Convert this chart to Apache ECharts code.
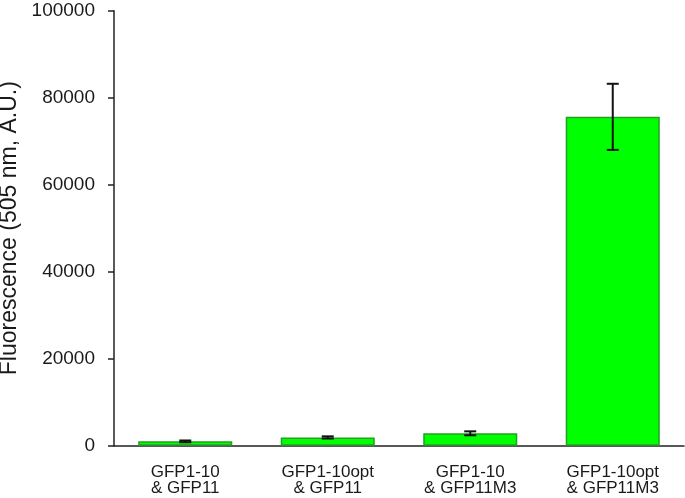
<!DOCTYPE html>
<html>
<head>
<meta charset="utf-8">
<script src="https://cdn.jsdelivr.net/npm/echarts@6/dist/echarts.min.js"></script>
<style>
  html, body { margin: 0; padding: 0; background: #fff; }
  #chart { width: 685px; height: 498px; }
</style>
</head>
<body>
<div id="chart"></div>
<script>
// values
const categories = ['GFP1-10\n& GFP11', 'GFP1-10opt\n& GFP11', 'GFP1-10\n& GFP11M3', 'GFP1-10opt\n& GFP11M3'];
const fluorescence = [1000, 1900, 2850, 75600];
const errors = [200, 250, 450, 7600];
const yTicks = [0, 20000, 40000, 60000, 80000, 100000];

const axisColor = '#222';
const font = 'Liberation Sans, Arial, sans-serif';

const errorData = fluorescence.map((v, i) => [i, v - errors[i], v + errors[i]]);

const chart = echarts.init(document.getElementById('chart'));
chart.setOption({
    backgroundColor: '#fff',
    animation: false,
    grid: { left: 114, right: 1, top: 10.7, bottom: 52.3, containLabel: false, outerBoundsMode: 'none' },
    xAxis: {
        type: 'category',
        data: categories,
        axisLine: { lineStyle: { color: axisColor, width: 1.5 } },
        axisTick: { alignWithLabel: true, length: 6, lineStyle: { color: axisColor, width: 1.5 } },
        axisLabel: { color: '#1a1a1a', fontSize: 17, lineHeight: 16, fontFamily: font, margin: 19 },
    },
    yAxis: {
        type: 'value',
        min: yTicks[0],
        max: yTicks[yTicks.length - 1],
        interval: 20000,
        name: 'Fluorescence (505 nm, A.U.)',
        nameLocation: 'middle',
        nameGap: 89,
        nameTextStyle: { color: '#1a1a1a', fontSize: 23, fontFamily: font },
        axisLine: { show: true, lineStyle: { color: axisColor, width: 1.5 } },
        axisTick: { show: true, length: 6, lineStyle: { color: axisColor, width: 1.5 } },
        axisLabel: { color: '#1a1a1a', fontSize: 19, fontFamily: font, margin: 19, formatter: v => String(v) },
        splitLine: { show: false },
    },
    series: [
        {
            type: 'bar',
            data: fluorescence,
            barWidth: '66%',
            itemStyle: { color: '#00ff00', borderColor: '#22a022', borderWidth: 1.5 },
        },
        {
            type: 'custom',
            data: errorData,
            z: 10,
            renderItem: (params, api) => {
                const x = api.value(0);
                const lo = api.coord([x, api.value(1)]);
                const hi = api.coord([x, api.value(2)]);
                const half = 6;
                const style = { stroke: '#111', lineWidth: 2 };
                return {
                    type: 'group',
                    children: [
                        { type: 'line', shape: { x1: lo[0], y1: lo[1], x2: hi[0], y2: hi[1] }, style },
                        { type: 'line', shape: { x1: hi[0] - half, y1: hi[1], x2: hi[0] + half, y2: hi[1] }, style },
                        { type: 'line', shape: { x1: lo[0] - half, y1: lo[1], x2: lo[0] + half, y2: lo[1] }, style },
                    ],
                };
            },
        },
    ],
});
</script>
</body>
</html>
